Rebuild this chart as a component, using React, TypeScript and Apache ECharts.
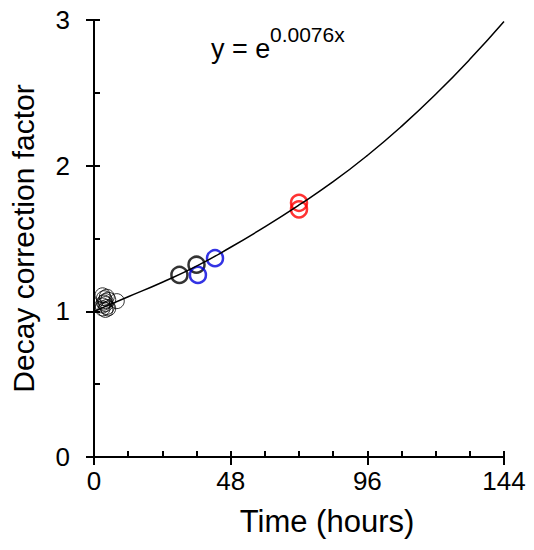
import React, { useEffect, useRef } from "react";
import * as echarts from "echarts";

// Fitted curve y = e^(0.0076x)
const curveX = [0, 12, 24, 36, 48, 60, 72, 84, 96, 108, 120, 132, 144];
const curveY = [1.0, 1.1, 1.2, 1.31, 1.44, 1.58, 1.73, 1.89, 2.07, 2.27, 2.49, 2.73, 2.99];

// Measured points
const thinX = [3, 3.5, 4, 4, 4.5, 5, 3, 4, 5, 8, 3.5, 4.5, 3];
const thinY = [1.11, 1.09, 1.07, 1.05, 1.03, 1.02, 1.04, 1.01, 1.08, 1.07, 1.06, 1.1, 1.02];
const blackX = [30, 36];
const blackY = [1.25, 1.32];
const blueX = [36.5, 42.5];
const blueY = [1.25, 1.365];
const redX = [72, 72];
const redY = [1.745, 1.7];

const xTicks = [0, 48, 96, 144];
const yTicks = [0, 1, 2, 3];

const FONT = "'Liberation Sans', Arial, Helvetica, sans-serif";

const pairs = (xs: number[], ys: number[]) => xs.map((x, i) => [x, ys[i]]);

export default function App() {
  const ref = useRef<HTMLDivElement>(null);
  useEffect(() => {
    if (!ref.current) return;
    const chart = echarts.init(ref.current, undefined, { renderer: "svg" });
    const lineStyle = { color: "#000", width: 2 };
    const xMin = xTicks[0];
    const xMax = xTicks[xTicks.length - 1];
    const yMin = yTicks[0];
    const yMax = yTicks[yTicks.length - 1];
    const scatter = (xs: number[], ys: number[], color: string, width: number, size: number) => ({
      type: "scatter",
      data: pairs(xs, ys),
      symbol: "circle",
      symbolSize: size,
      itemStyle: { color: "rgba(0,0,0,0)", borderColor: color, borderWidth: width },
      z: 3,
    });
    chart.setOption({
      animation: false,
      grid: { left: 91, right: 30, top: 20, bottom: 93, containLabel: false },
      xAxis: [
        {
          type: "value",
          position: "bottom",
          min: xMin,
          max: xMax,
          interval: 48,
          name: "Time (hours)",
          nameLocation: "middle",
          nameGap: 49,
          nameTextStyle: { fontSize: 31, color: "#000", fontFamily: FONT, padding: [0, 0, 0, 56] },
          axisLine: { show: true, lineStyle },
          axisTick: { show: true, inside: false, length: 8, lineStyle },
          axisLabel: { fontSize: 26, color: "#000", fontFamily: FONT, margin: 11 },
          splitLine: { show: false },
        },
        {
          type: "value",
          position: "bottom",
          min: xMin,
          max: xMax,
          interval: 12,
          axisLine: { show: false },
          axisTick: { show: true, inside: true, length: 6, lineStyle },
          axisLabel: { show: false },
          splitLine: { show: false },
        },
        {
          type: "value",
          position: "top",
          min: xMin,
          max: xMax,
          axisLine: { show: true, lineStyle },
          axisTick: { show: false },
          axisLabel: { show: false },
          splitLine: { show: false },
        },
      ],
      yAxis: [
        {
          type: "value",
          position: "left",
          min: yMin,
          max: yMax,
          interval: 1,
          name: "Decay correction factor",
          nameLocation: "middle",
          nameGap: 56,
          nameRotate: 90,
          nameTextStyle: { fontSize: 30, color: "#000", fontFamily: FONT },
          axisLine: { show: true, lineStyle },
          axisTick: { show: true, inside: false, length: 8, lineStyle },
          axisLabel: { fontSize: 26, color: "#000", fontFamily: FONT, margin: 24 },
          splitLine: { show: false },
        },
        {
          type: "value",
          position: "left",
          min: yMin,
          max: yMax,
          interval: 0.5,
          axisLine: { show: false },
          axisTick: { show: true, inside: true, length: 6, lineStyle },
          axisLabel: { show: false },
          splitLine: { show: false },
        },
        {
          type: "value",
          position: "right",
          min: yMin,
          max: yMax,
          axisLine: { show: true, lineStyle },
          axisTick: { show: false },
          axisLabel: { show: false },
          splitLine: { show: false },
        },
      ],
      graphic: [
        {
          type: "text",
          left: 211,
          top: 35,
          style: { text: "y = e", fontSize: 27, fill: "#000", fontFamily: FONT },
        },
        {
          type: "text",
          left: 270,
          top: 24,
          style: { text: "0.0076x", fontSize: 21, fill: "#000", fontFamily: FONT },
        },
      ],
      series: [
        {
          type: "line",
          data: pairs(curveX, curveY),
          smooth: true,
          symbol: "none",
          lineStyle: { color: "#000", width: 1.5 },
          z: 4,
        },
        scatter(thinX, thinY, "#000", 1, 15),
        scatter(blackX, blackY, "#000", 2.5, 16),
        scatter(blueX, blueY, "#0000dd", 2.5, 16),
        scatter(redX, redY, "#ff0000", 2.5, 16),
      ],
    });
    return () => chart.dispose();
  }, []);
  return (
    <div
      ref={ref}
      style={{ position: "absolute", left: 0, top: 0, width: 534, height: 550, background: "#fff" }}
    />
  );
}
